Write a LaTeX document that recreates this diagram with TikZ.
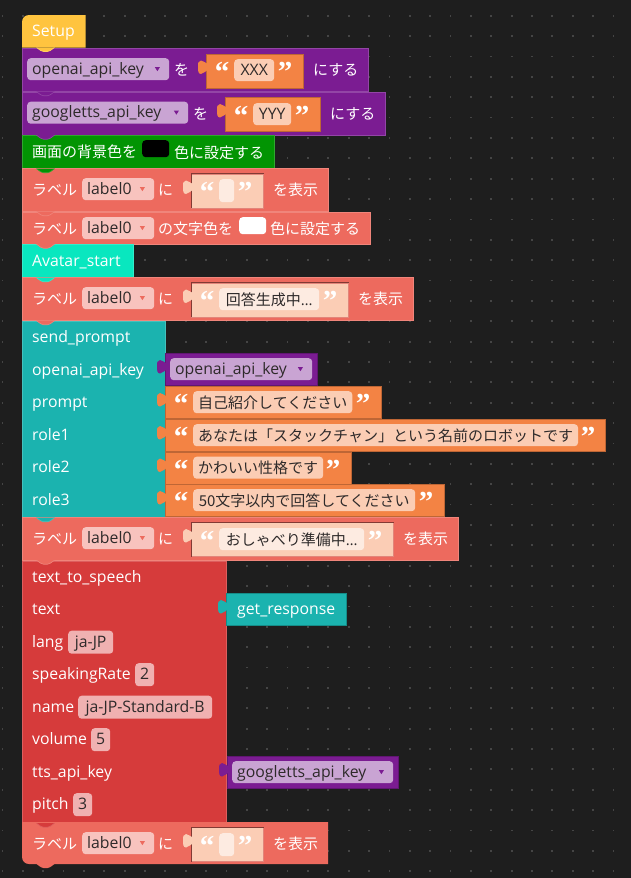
\documentclass[tikz,border=0pt]{standalone}
\usepackage{fontspec}
\usepackage{xcolor}
\usepackage{tikz}
\setmainfont{Open Sans}
\newfontfamily\jpfont{Noto Sans CJK JP}
\newfontfamily\quotefont[BoldFont=Liberation Serif Bold]{Liberation Serif}

\definecolor{canvasbg}{HTML}{1E1E1E}
\definecolor{canvasdot}{HTML}{454545}
\definecolor{setupyellow}{HTML}{FFC43F}
\definecolor{varpurple}{HTML}{7B1C92}
\definecolor{varlight}{HTML}{C9A4D3}
\definecolor{stringorange}{HTML}{F38344}
\definecolor{orangelight}{HTML}{FBCDB4}
\definecolor{screengreen}{HTML}{029403}
\definecolor{labelred}{HTML}{ED6A5E}
\definecolor{labellight}{HTML}{F8C3BE}
\definecolor{stringpale}{HTML}{FBCDB5}
\definecolor{stringpaler}{HTML}{FDEBE1}
\definecolor{paleedge}{HTML}{E2857A}
\definecolor{avatarmint}{HTML}{09E7BF}
\definecolor{gptteal}{HTML}{1BB3AF}
\definecolor{ttsred}{HTML}{D63B3B}
\definecolor{ttslight}{HTML}{F0B1B1}
\definecolor{fieldtext}{HTML}{2E2A2A}

\tikzset{
  blockbox/.style={draw=#1!82!white, fill=#1, rectangle, anchor=north west, inner sep=0pt, line width=0.7pt},
  valuebox/.style={draw=#1!78!black, fill=#1, rectangle, anchor=north west, inner sep=0pt, line width=0.8pt},
  palebox/.style={draw=paleedge, fill=stringpale, rectangle, anchor=north west, inner sep=0pt, line width=0.9pt},
  fieldbox/.style={rectangle, rounded corners=3.5pt, anchor=north west, inner xsep=5pt, inner ysep=0pt, minimum height=22pt, text height=10pt, text depth=0pt, text=fieldtext, font=\fontsize{15.8}{16}\selectfont},
  blocktext/.style={anchor=west, inner sep=0pt, text height=10pt, text depth=0pt, text=white, font=\fontsize{15.8}{16}\selectfont},
  jptext/.style={anchor=west, inner sep=0pt, text height=12pt, text depth=0pt, text=white, font=\jpfont\fontsize{15}{16}\selectfont},
  jpfield/.style={fieldbox, text height=12pt, font=\jpfont\fontsize{15}{16}\selectfont},
  openmark/.style={inner sep=0pt, text=white, font=\quotefont\bfseries\fontsize{29}{29}\selectfont},
}

% tab on the left of a value block, notch under a stacked block
\newcommand{\puzzletab}[2]{\fill[#2, shift={(#1.north west)}] (1,10) .. controls (-1,10) and (-2,7) .. (-5,7) .. controls (-8,7) and (-8,10) .. (-8,13.5) .. controls (-8,17) and (-8,20.5) .. (-5,20.5) .. controls (-2,20.5) and (-1,17) .. (1,17) -- cycle;}
\newcommand{\blocknotch}[2]{\draw[#2!82!white, fill=#2, line width=0.6pt, rounded corners=1.5pt, shift={(#1.south west)}] (14.5,0) -- (20,4) -- (27,4) -- (32.5,0);}
\newcommand{\droparrow}[2]{\fill[#2] (#1.east) ++(-14.5,-2) -- ++(5,0) -- ++(-2.5,4) -- cycle;}
\newcommand{\insetedge}[1]{\draw[labelred!55!black, line width=0.7pt] (#1.south west) -- (#1.north west) -- (#1.north east);}

\begin{document}
\begin{tikzpicture}[x=1pt,y=-1pt]
\useasboundingbox (0,0) rectangle (631,878);
\fill[canvasbg] (0,0) rectangle (631,878);

% Canvas dots
\foreach \i in {0,...,30}
  \foreach \j in {0,...,42}
    \fill[canvasdot] ({2.4+20.37*\i-0.9},{15.7+20.37*\j-0.9}) rectangle ++(1.8,1.8);

% Setup block
\fill[setupyellow] (22,47.5) [rounded corners=7pt] -- (22,15) [sharp corners] -- (85.5,15) -- (85.5,47.5) -- cycle;
\coordinate (setupfoot) at (22,47.5);
\node[blocktext] (setup) at (32,31) {Setup};

% openai key block
\node[blockbox=varpurple, minimum width=346pt, minimum height=43pt] (openaiset) at (22,48) {};
\blocknotch{setupfoot}{setupyellow}
\node[fieldbox, fill=varlight, text width=132pt] (openaifield) at (27,58) {openai\_api\_key};
\droparrow{openaifield}{varpurple}
\node[jptext] (openaio) at (174,69) {を};
\node[valuebox=stringorange, minimum width=97pt, minimum height=34pt] (xxxblock) at (206,53.5) {};
\puzzletab{xxxblock}{stringorange}
\node[fieldbox, fill=orangelight, minimum width=40pt] (xxxfield) at (234,59) {XXX};
\node[openmark] (xxxopen) at (222,72) {“};
\node[openmark] (xxxclose) at (285,72) {”};
\node[jptext] (openaisuru) at (313,69) {にする};

% googletts key block
\node[blockbox=varpurple, minimum width=363pt, minimum height=43pt] (googleset) at (22,91.5) {};
\node[fieldbox, fill=varlight, text width=151pt] (googlefield) at (27,101.5) {googletts\_api\_key};
\droparrow{googlefield}{varpurple}
\node[jptext] (googleo) at (193,113) {を};
\node[valuebox=stringorange, minimum width=95pt, minimum height=34pt] (yyyblock) at (225,97) {};
\puzzletab{yyyblock}{stringorange}
\node[fieldbox, fill=orangelight, minimum width=38pt] (yyyfield) at (253,103) {YYY};
\node[openmark] (yyyopen) at (241,116) {“};
\node[openmark] (yyyclose) at (302,116) {”};
\node[jptext] (googlesuru) at (330,113) {にする};
\blocknotch{openaiset}{varpurple}

% background colour block
\node[blockbox=screengreen, minimum width=252pt, minimum height=33pt] (bgblock) at (22,135) {};
\node[jptext] (bgtext) at (32,151) {画面の背景色を};
\node[fill=black, rectangle, rounded corners=3.5pt, anchor=north west, minimum width=27pt, minimum height=17pt, inner sep=0pt] (bgswatch) at (142,140) {};
\node[jptext] (bgcolor) at (174,152) {色に設定する};
\blocknotch{googleset}{varpurple}

% first empty label
\node[blockbox=labelred, minimum width=306pt, minimum height=43pt] (labelone) at (22,168) {};
\node[jptext] (labelonetext) at (32,189) {ラベル};
\node[fieldbox, fill=labellight, text width=62pt] (labelonefield) at (82,178) {label0};
\droparrow{labelonefield}{labelred}
\node[jptext] (labeloneni) at (158,189) {に};
\node[palebox, minimum width=72pt, minimum height=34pt] (labeloneval) at (191,173.5) {};
\insetedge{labeloneval}
\puzzletab{labeloneval}{stringpale}
\node[fieldbox, fill=stringpaler, minimum width=15pt, minimum height=23pt] (labeloneempty) at (219,179) {};
\node[openmark] (labeloneopen) at (207,192) {“};
\node[openmark] (labeloneclose) at (245,192) {”};
\node[jptext] (labeloneshow) at (273,189) {を表示};
\blocknotch{bgblock}{screengreen}

% label text colour
\node[blockbox=labelred, minimum width=348pt, minimum height=32pt] (labelcolor) at (22,211.5) {};
\node[jptext] (labelcolortext) at (32,228) {ラベル};
\node[fieldbox, fill=labellight, text width=62pt] (labelcolorfield) at (82,217) {label0};
\droparrow{labelcolorfield}{labelred}
\node[jptext] (labelcolorof) at (158,228) {の文字色を};
\node[fill=white, rectangle, rounded corners=3.5pt, anchor=north west, minimum width=27pt, minimum height=17pt, inner sep=0pt] (labelswatch) at (239,217) {};
\node[jptext] (labelcolorset) at (270,228) {色に設定する};
\blocknotch{labelone}{labelred}

% avatar
\node[blockbox=avatarmint, minimum width=111pt, minimum height=33pt] (avatar) at (22,244) {};
\node[blocktext] (avatartext) at (32,261) {Avatar\_start};
\blocknotch{labelcolor}{labelred}

% label while answering
\node[blockbox=labelred, minimum width=391pt, minimum height=43pt] (labelgen) at (22,277) {};
\node[jptext] (labelgentext) at (32,298) {ラベル};
\node[fieldbox, fill=labellight, text width=62pt] (labelgenfield) at (82,287) {label0};
\droparrow{labelgenfield}{labelred}
\node[jptext] (labelgenni) at (158,298) {に};
\node[palebox, minimum width=157pt, minimum height=34pt] (labelgenval) at (191,282.5) {};
\insetedge{labelgenval}
\puzzletab{labelgenval}{stringpale}
\node[jpfield, fill=stringpaler, minimum width=100pt] (labelgenstr) at (219,288) {回答生成中{\rmfamily …}};
\node[openmark] (labelgenopen) at (207,301) {“};
\node[openmark] (labelgenclose) at (330,301) {”};
\node[jptext] (labelgenshow) at (358,298) {を表示};
\blocknotch{avatar}{avatarmint}

% send_prompt
\node[blockbox=gptteal, minimum width=143pt, minimum height=196pt] (sendprompt) at (22,321) {};
\node[blocktext] (sendname) at (32,337) {send\_prompt};
\node[blocktext] (sendkey) at (32,370) {openai\_api\_key};
\node[blocktext] (sendprom) at (32,402) {prompt};
\node[blocktext] (sendroleone) at (32,435) {role1};
\node[blocktext] (sendroletwo) at (32,467) {role2};
\node[blocktext] (sendrolethree) at (32,500) {role3};
\blocknotch{labelgen}{labelred}

\node[valuebox=varpurple, minimum width=152pt, minimum height=32pt] (sendkeyval) at (165,353) {};
\puzzletab{sendkeyval}{varpurple}
\node[fieldbox, fill=varlight, text width=132pt] (sendkeyfield) at (170,358) {openai\_api\_key};
\droparrow{sendkeyfield}{varpurple}

\node[valuebox=stringorange, minimum width=216pt, minimum height=32pt] (promptval) at (165,386) {};
\puzzletab{promptval}{stringorange}
\node[jpfield, fill=orangelight, minimum width=159pt] (promptstr) at (193,391) {自己紹介してください};
\node[openmark] (promptopen) at (181,404) {“};
\node[openmark] (promptclose) at (363,404) {”};

\node[valuebox=stringorange, minimum width=440pt, minimum height=32pt] (roleoneval) at (165,419) {};
\puzzletab{roleoneval}{stringorange}
\node[jpfield, fill=orangelight, minimum width=383pt] (roleonestr) at (193,424) {あなたは「スタックチャン」という名前のロボットです};
\node[openmark] (roleoneopen) at (181,437) {“};
\node[openmark] (roleoneclose) at (588,437) {”};

\node[valuebox=stringorange, minimum width=186pt, minimum height=32pt] (roletwoval) at (165,451.5) {};
\puzzletab{roletwoval}{stringorange}
\node[jpfield, fill=orangelight, minimum width=129pt] (roletwostr) at (193,456.5) {かわいい性格です};
\node[openmark] (roletwoopen) at (181,469.5) {“};
\node[openmark] (roletwoclose) at (333,469.5) {”};

\node[valuebox=stringorange, minimum width=279pt, minimum height=32pt] (rolethreeval) at (165,484) {};
\puzzletab{rolethreeval}{stringorange}
\node[jpfield, fill=orangelight, minimum width=222pt] (rolethreestr) at (193,489) {50文字以内で回答してください};
\node[openmark] (rolethreeopen) at (181,502) {“};
\node[openmark] (rolethreeclose) at (426,502) {”};

% label while preparing speech
\node[blockbox=labelred, minimum width=436pt, minimum height=43pt] (labelspeak) at (22,516.5) {};
\node[jptext] (labelspeaktext) at (32,538) {ラベル};
\node[fieldbox, fill=labellight, text width=62pt] (labelspeakfield) at (82,527) {label0};
\droparrow{labelspeakfield}{labelred}
\node[jptext] (labelspeakni) at (158,538) {に};
\node[palebox, minimum width=202pt, minimum height=34pt] (labelspeakval) at (191,522) {};
\insetedge{labelspeakval}
\puzzletab{labelspeakval}{stringpale}
\node[jpfield, fill=stringpaler, minimum width=145pt] (labelspeakstr) at (219,528) {おしゃべり準備中{\rmfamily …}};
\node[openmark] (labelspeakopen) at (207,541) {“};
\node[openmark] (labelspeakclose) at (375,541) {”};
\node[jptext] (labelspeakshow) at (403,538) {を表示};
\blocknotch{sendprompt}{gptteal}

% text_to_speech
\node[blockbox=ttsred, minimum width=204pt, minimum height=262pt] (ttsblock) at (22,560.5) {};
\node[blocktext] (ttsname) at (32,577) {text\_to\_speech};
\node[blocktext] (ttstext) at (32,609) {text};
\node[blocktext] (ttslang) at (32,642) {lang};
\node[fieldbox, fill=ttslight, minimum width=45pt, minimum height=23pt] (ttslangval) at (68,630.5) {ja-JP};
\node[blocktext] (ttsrate) at (32,674) {speakingRate};
\node[fieldbox, fill=ttslight, minimum width=19pt, minimum height=23pt] (ttsrateval) at (135,663) {2};
\node[blocktext] (ttsvoice) at (32,707) {name};
\node[fieldbox, fill=ttslight, minimum width=134pt, minimum height=23pt] (ttsvoiceval) at (78,695.5) {ja-JP-Standard-B};
\node[blocktext] (ttsvolume) at (32,739) {volume};
\node[fieldbox, fill=ttslight, minimum width=19pt, minimum height=23pt] (ttsvolumeval) at (91,728) {5};
\node[blocktext] (ttskey) at (32,772) {tts\_api\_key};
\node[blocktext] (ttspitch) at (32,804) {pitch};
\node[fieldbox, fill=ttslight, minimum width=19pt, minimum height=23pt] (ttspitchval) at (73,793) {3};
\blocknotch{labelspeak}{labelred}

\node[valuebox=gptteal, minimum width=120pt, minimum height=32pt] (getresponse) at (226,593) {};
\puzzletab{getresponse}{gptteal}
\node[blocktext] (getresponsetext) at (237,609) {get\_response};

\node[valuebox=varpurple, minimum width=171pt, minimum height=32pt] (ttskeyval) at (227,756) {};
\puzzletab{ttskeyval}{varpurple}
\node[fieldbox, fill=varlight, text width=151pt] (ttskeyfield) at (232,761) {googletts\_api\_key};
\droparrow{ttskeyfield}{varpurple}

% last empty label
\fill[labelred] (22,822) [rounded corners=7pt] -- (22,864) [sharp corners] -- (328,864) -- (328,822) -- cycle;
\coordinate (labellastfoot) at (22,864);
\fill[labelred, rounded corners=1.5pt, shift={(labellastfoot)}] (14.5,0) -- (20,4) -- (27,4) -- (32.5,0);
\node[jptext] (labellasttext) at (32,843) {ラベル};
\node[fieldbox, fill=labellight, text width=62pt] (labellastfield) at (82,832) {label0};
\droparrow{labellastfield}{labelred}
\node[jptext] (labellastni) at (158,843) {に};
\node[palebox, minimum width=72pt, minimum height=34pt] (labellastval) at (191,827) {};
\insetedge{labellastval}
\puzzletab{labellastval}{stringpale}
\node[fieldbox, fill=stringpaler, minimum width=15pt, minimum height=23pt] (labellastempty) at (219,833) {};
\node[openmark] (labellastopen) at (207,846) {“};
\node[openmark] (labellastclose) at (245,846) {”};
\node[jptext] (labellastshow) at (273,843) {を表示};
\blocknotch{ttsblock}{ttsred}
\end{tikzpicture}
\end{document}
